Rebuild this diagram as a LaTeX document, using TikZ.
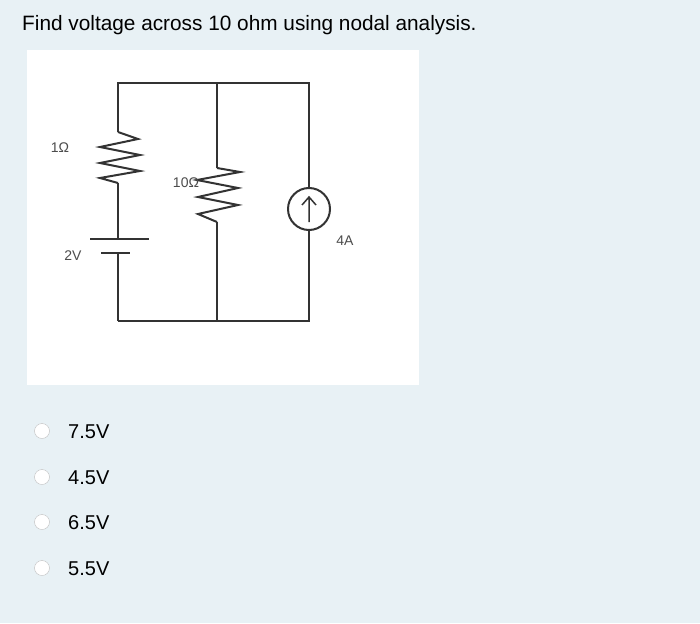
\documentclass[tikz,border=0pt]{standalone}
\usepackage{fontspec}
\setmainfont{Liberation Sans}
\begin{document}
\begin{tikzpicture}[x=1pt,y=-1pt,
  wire/.style={line width=2pt,black!80},
  lbl/.style={font=\fontsize{14}{15}\selectfont,text=black!70,inner sep=0},
  opt/.style={font=\fontsize{20}{22}\selectfont,anchor=west,inner sep=0},
  radio/.style={circle,draw=black!25,fill=white,minimum size=15pt,inner sep=0}]
\useasboundingbox (0,0) rectangle (700,623);
\fill[fill={rgb,255:red,232;green,241;blue,245}] (0,0) rectangle (700,623);
\node[anchor=west,inner sep=0,font=\fontsize{20.8}{22}\selectfont] (title) at (22,25) {Find voltage across 10 ohm using nodal analysis.};
\fill[white] (27,50) rectangle (419,385);
\coordinate (tl) at (118,83); \coordinate (tm) at (217,83); \coordinate (tr) at (309,83);
\coordinate (bl) at (118,321); \coordinate (bm) at (217,321); \coordinate (br) at (309,321);
\coordinate (r1a) at (118,132); \coordinate (r1b) at (118,183);
\coordinate (bat1) at (118,239); \coordinate (bat2) at (118,253);
\coordinate (r2a) at (217,168); \coordinate (r2b) at (217,222);
\node[circle,draw,line width=2pt,black!80,minimum size=42pt,inner sep=0] (cs) at (309,209) {};
\draw[wire] (bl) -- (bat2) (bat1) -- (r1b) (r1a) -- (tl) -- (tr) -- (cs.north) (cs.south) -- (br) -- (bl);
\draw[wire] (tm) -- (r2a) (r2b) -- (bm);
\draw[wire] (90,239) -- (149,239);
\draw[wire] (101,253) -- (130,253);
\draw[wire] (r1a) -- (138,139) -- (100,147) -- (140,155) -- (100,163) -- (140,171) -- (100,178) -- (r1b);
\draw[wire] (r2a) -- (240,172) -- (197,180) -- (238,188) -- (198,197) -- (238,205) -- (198,214) -- (r2b);
\draw[line width=1.5pt,black!80] (309,222) -- (309,198) (302,205) -- (309,197) -- (316,205);
\node[lbl] (l1) at (60,148) {1Ω};
\node[lbl] (l10) at (186,183) {10Ω};
\node[lbl] (l2) at (73,256) {2V};
\node[lbl] (l4) at (345,241) {4A};
\node[radio] (c1) at (42,431) {}; \node[opt] (o1) at (68,432) {7.5V};
\node[radio] (c2) at (42,477) {}; \node[opt] (o2) at (68,478) {4.5V};
\node[radio] (c3) at (42,522) {}; \node[opt] (o3) at (68,523) {6.5V};
\node[radio] (c4) at (42,568) {}; \node[opt] (o4) at (68,569) {5.5V};
\end{tikzpicture}
\end{document}
